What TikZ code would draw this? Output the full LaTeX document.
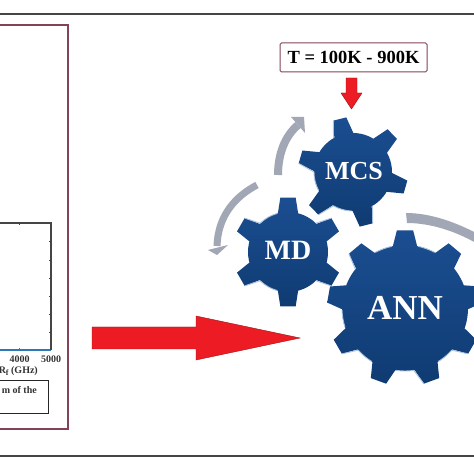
\documentclass[tikz,border=0pt]{standalone}
\usepackage{fontspec}
\setmainfont{Liberation Serif}
\usetikzlibrary{arrows.meta,positioning,calc}
\definecolor{gearblue}{HTML}{1B4E91}
\definecolor{geardeep}{HTML}{0F3B72}
\definecolor{gearedge}{HTML}{A9C2E0}
\definecolor{gearmaroon}{HTML}{84425A}
\definecolor{gearred}{HTML}{ED1C24}
\definecolor{gearaxis}{HTML}{454545}
\definecolor{gearcurve}{HTML}{2F78B7}
\definecolor{gearturn}{HTML}{A2A7B5}
\tikzset{
  gearbody/.style={top color=gearblue, bottom color=geardeep, shading angle=0},
  gearrim/.style={draw=gearedge, line width=0.9pt},
  gearlabel/.style={text=white, inner sep=0pt, font=\bfseries\fontsize{#1}{#1}\selectfont},
  gearpanel/.style={draw=gearmaroon, line width=1.1pt},
  gearplot/.style={draw=gearaxis, line width=1.3pt},
  gearnote/.style={font=\bfseries\fontsize{10}{12}\selectfont, text=black!80, inner sep=0pt},
  gearpointer/.style={fill=gearred, draw=gearred!65!black, line width=0.4pt},
  gearturning/.style={draw=gearturn, line width=#1},
  tempbox/.style={draw=gearmaroon, rounded corners=1.5pt, line width=1pt, fill=white,
    minimum width=147pt, minimum height=29pt, inner sep=0pt,
    font=\bfseries\fontsize{18.5}{20}\selectfont}
}
\newcommand{\gearwheel}[7]{%
  \begin{scope}[shift={(#1,#2)}]
    \shade[gearbody] (0,0) circle[radius=#3]
      foreach \a in {#5} {
        (\a-#6:#3-2) -- (\a-#7:#4) -- (\a+#7:#4) -- (\a+#6:#3-2) -- cycle
      };
  \end{scope}}
\newcommand{\gearglint}[6]{%
  \foreach \s/\e in {#5} {
    \draw[gearrim] ([shift={(#1,#2)}]\s:#3) arc[start angle=\s, end angle=\e, radius=#3];
  }
  \foreach \s/\e in {#6} {
    \draw[gearrim] ([shift={(#1,#2)}]\s:#3) -- ([shift={(#1,#2)}]\e:#4);
  }}
\begin{document}
\begin{tikzpicture}[x=1pt, y=1pt]
  \useasboundingbox (0,0) rectangle (474,474);
  \clip (0,0) rectangle (474,474);
  \fill[white] (0,0) rectangle (474,474);
  \draw[gearaxis, line width=1.3pt] (0,460) -- (474,460);
  \draw[gearaxis, line width=1.3pt] (0,18) -- (474,18);
  \draw[gearpanel] (-2,449) -- (68,449) -- (68,45) -- (-2,45);
  \draw[gearcurve, line width=1.2pt] (-2,124) -- (51,124);
  \draw[gearplot] (-2,251) -- (51,251) -- (51,124);
  \foreach \y in {233,214,196,178,160,142}
    \draw[gearaxis, line width=0.8pt] (51,\y) -- (49,\y);
  \draw[gearaxis, line width=0.8pt] (19.5,251) -- (19.5,249);
  \draw[gearcurve, line width=0.8pt] (19.5,124) -- (19.5,126);
  \node[gearnote] (tickfour) at (19.5,115) {4000};
  \node[gearnote] (tickfive) at (51,115) {5000};
  \node[gearnote, anchor=east] (xlabel) at (38,103)
    {R\raisebox{-2pt}{\fontsize{8}{8}\selectfont f} (GHz)};
  \draw[draw=black!85, line width=1pt] (-2,93) -- (48,93) -- (48,60) -- (-2,60);
  \node[gearnote, anchor=east] (caption) at (37,84) {m of the};
  \draw[gearpointer] (92,147) -- (196,147) -- (196,158) -- (300,136)
    -- (196,114) -- (196,125) -- (92,125) -- cycle;
  \node[tempbox] (temp) at (353.5,416.5) {T = 100K - 900K};
  \draw[gearpointer] (346,396) -- (357,396) -- (357,381) -- (362,381)
    -- (351.5,365) -- (341,381) -- (346,381) -- cycle;
  \draw[gearturning=8pt] (278,299) .. controls (278,320) and (285,338) .. (298,349);
  \fill[gearturn] (291,357) -- (304,357) -- (305,341) -- cycle;
  \draw[gearturning=7pt] (257,289) .. controls (236,278) and (218,259) .. (217,228);
  \fill[gearturn] (208,224) -- (228,229) -- (217,219) -- cycle;
  \fill[gearturn] (406,261) .. controls (430,261) and (455,252) .. (476,241)
    -- (476,231) .. controls (455,243) and (430,251) .. (407,251) -- cycle;
  \gearwheel{353}{302}{39}{55}{44,104,164,224,284,344}{16}{7}
  \gearglint{353}{302}{39}{55}{180/208,240/268}{120/111,180/171,240/231,300/291}
  \gearwheel{288}{222}{40}{55}{30,90,150,210,270,330}{16}{8}
  \gearglint{288}{222}{40}{55}{106/134,226/254}{46/38,134/142,226/218,314/322}
  \gearwheel{405}{166}{63}{78}{10,50,90,130,170,210,250,290,330}{12}{6}
  \gearglint{405}{166}{63}{78}{62/78,102/118,182/198,222/238,262/278,302/318}
    {142/136,222/216,278/284,318/324}
  \node[gearlabel=26] (mcs) at (354,303) {MCS};
  \node[gearlabel=28] (md) at (288,224) {MD};
  \node[gearlabel=35] (ann) at (405,166) {ANN};
\end{tikzpicture}
\end{document}
